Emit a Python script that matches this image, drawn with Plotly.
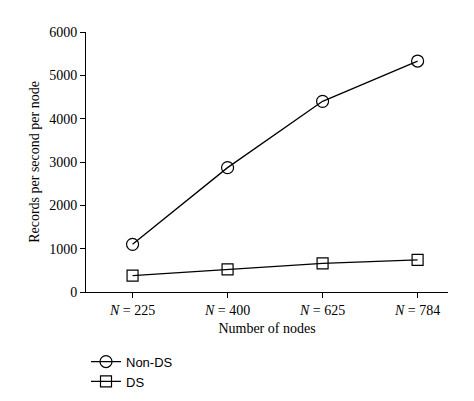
import plotly.graph_objects as go

categories = ["<i>N</i> = 225", "<i>N</i> = 400", "<i>N</i> = 625", "<i>N</i> = 784"]
non_ds = [1100, 2870, 4400, 5330]
ds = [380, 520, 660, 740]

fig = go.Figure()
fig.add_trace(go.Scatter(x=categories, y=non_ds, name="Non-DS", mode="lines+markers",
    line=dict(color="black", width=1.3),
    marker=dict(symbol="circle-open", size=12, color="black", line=dict(width=1.2))))
fig.add_trace(go.Scatter(x=categories, y=ds, name="DS", mode="lines+markers",
    line=dict(color="black", width=1.3),
    marker=dict(symbol="square-open", size=11, color="black", line=dict(width=1.2))))

fig.update_layout(
    width=474, height=401, plot_bgcolor="white", paper_bgcolor="white",
    margin=dict(l=78, r=34, t=24, b=115),
    font=dict(family="Liberation Serif", size=14, color="black"),
    xaxis=dict(type="category", range=[-0.49, 3.32], showline=True, linecolor="black",
               ticks="outside", ticklen=5, tickcolor="black", showgrid=False,
               tickfont=dict(size=14),
               title=dict(text="Number of nodes", standoff=6, font=dict(size=14))),
    yaxis=dict(range=[0, 6000], dtick=1000, showline=True, linecolor="black",
               ticks="outside", ticklen=5, tickcolor="black", showgrid=False, zeroline=False,
               tickfont=dict(size=14),
               title=dict(text="Records per second per node", standoff=6, font=dict(size=14))),
    legend=dict(x=0.0, y=-0.21, xanchor="left", yanchor="top", tracegroupgap=0,
                font=dict(family="Liberation Sans", size=13), bgcolor="rgba(0,0,0,0)"),
)
fig.write_html("out.html")
